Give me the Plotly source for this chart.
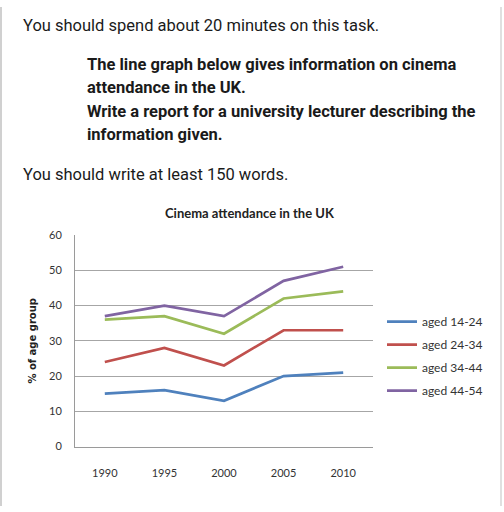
import plotly.graph_objects as go

years = ["1990", "1995", "2000", "2005", "2010"]
aged_14_24 = [15, 16, 13, 20, 21]
aged_24_34 = [24, 28, 23, 33, 33]
aged_34_44 = [36, 37, 32, 42, 44]
aged_44_54 = [37, 40, 37, 47, 51]
series_names = ["aged 14-24", "aged 24-34", "aged 34-44", "aged 44-54"]
series_colors = ["#4F81BD", "#C0504D", "#9BBB59", "#8064A2"]
y_ticks = [0, 10, 20, 30, 40, 50, 60]

W, H = 504, 512

fig = go.Figure()
for name, vals, col in zip(series_names,
                           [aged_14_24, aged_24_34, aged_34_44, aged_44_54],
                           series_colors):
    fig.add_trace(go.Scatter(x=years, y=vals, mode="lines", name=name,
                             legendgroup=name,
                             line=dict(color=col, width=2.7)))

def px_x(p):
    return p / W

def px_y(p):
    return 1 - p / H

chart_font = "Lato"
text_font = "Roboto"

fig.update_layout(
    width=W, height=H, autosize=False,
    margin=dict(l=0, r=0, t=0, b=0),
    paper_bgcolor="white", plot_bgcolor="white",
    showlegend=True,
    legend=dict(x=px_x(382), y=px_y(308), xanchor="left", yanchor="top",
                font=dict(family=chart_font, size=12, color="#333333"),
                traceorder="grouped", tracegroupgap=4,
                bgcolor="rgba(0,0,0,0)", itemwidth=30),
    xaxis=dict(domain=[px_x(75), px_x(373)], type="category",
               range=[-0.5, len(years) - 0.5],
               showgrid=False, showline=True, linecolor="#9a9a9a", linewidth=1,
               ticks="", ticklabelstandoff=16,
               tickfont=dict(family=chart_font, size=11, color="#333333")),
    yaxis=dict(domain=[px_y(451), px_y(234)], range=[0, 60], tickvals=y_ticks,
               showgrid=True, gridcolor="#a6a6a6", gridwidth=1,
               showline=True, linecolor="#9a9a9a", linewidth=1,
               zeroline=False, ticks="", ticklabelstandoff=10,
               tickfont=dict(family=chart_font, size=11, color="#333333"),
               title=dict(text="<b>% of age group</b>", standoff=10,
                          font=dict(family="DejaVu Sans", size=10, color="#222222"))),
)

annots = [
    dict(text="You should spend about 20 minutes on this task.", x=21, y=19, bold=False),
    dict(text="The line graph below gives information on cinema", x=85, y=59, bold=True),
    dict(text="attendance in the UK.", x=85, y=83, bold=True),
    dict(text="Write a report for a university lecturer describing the", x=85, y=107, bold=True),
    dict(text="information given.", x=85, y=131, bold=True),
    dict(text="You should write at least 150 words.", x=21, y=172, bold=False),
]
for a in annots:
    t = f"<b>{a['text']}</b>" if a["bold"] else a["text"]
    fig.add_annotation(text=t, x=px_x(a["x"]), y=px_y(a["y"]), xref="paper", yref="paper",
                       xanchor="left", yanchor="middle", showarrow=False,
                       font=dict(family=text_font, size=16.5, color="#1a1a1a"))

fig.add_annotation(text="<b>Cinema attendance in the UK</b>", x=px_x(250), y=px_y(211),
                   xref="paper", yref="paper", xanchor="center", yanchor="middle",
                   showarrow=False,
                   font=dict(family=chart_font, size=13, color="#222222"))

# page frame lines
fig.add_shape(type="line", xref="paper", yref="paper", x0=px_x(1), x1=px_x(1), y0=0, y1=1,
              line=dict(color="#d0d0d0", width=2))
fig.add_shape(type="line", xref="paper", yref="paper", x0=px_x(501), x1=px_x(501), y0=0, y1=1,
              line=dict(color="#e0e0e0", width=2))

fig.write_html("out.html", config={"displayModeBar": False},
               post_script="document.body.style.margin='0';document.body.style.padding='0';")
